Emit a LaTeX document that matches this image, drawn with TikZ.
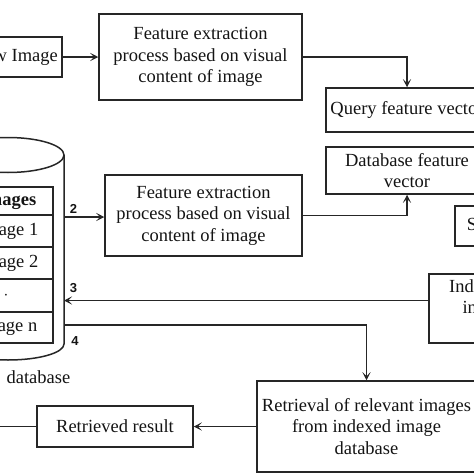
\documentclass[tikz,border=0pt]{standalone}
\usepackage{fontspec}
\setmainfont{Liberation Serif}
\newfontfamily\numfont{Liberation Sans}
\usetikzlibrary{arrows.meta}
\definecolor{linec}{HTML}{262626}
\definecolor{textc}{HTML}{141414}
\begin{document}
\begin{tikzpicture}[x=1pt,y=-1pt,
  every node/.style={text=textc},
  box/.style={draw=linec, line width=1.5pt, inner sep=0pt, align=center, font=\fontsize{18.5}{21.5}\selectfont},
  conn/.style={draw=linec, line width=1.3pt},
  arr/.style={conn, -{Stealth[length=8pt,width=8pt,inset=4pt]}},
  num/.style={font=\numfont\bfseries\fontsize{13}{15}\selectfont, inner sep=0pt},
  cell/.style={anchor=west, inner sep=0pt},
  txt/.style={font=\fontsize{18.5}{21.5}\selectfont, inner sep=0pt, align=center}
]
\useasboundingbox (0,0) rectangle (474,474);
\clip (0,0) rectangle (474,474);

% boxes
\node[box, minimum width=94pt, minimum height=40pt] (newimg) at (15,57) {New Image};
\node[box, minimum width=203pt, minimum height=86pt] (fe1) at (200.5,57) {Feature extraction\\process based on visual\\content of image};
\node[box, minimum width=162pt, minimum height=44pt] (qfv) at (407,110) {Query feature vector};
\node[box, minimum width=162pt, minimum height=47pt] (dfv) at (407,170.5) {Database feature\\vector};
\node[box, minimum width=197pt, minimum height=81pt] (fe2) at (203.5,215.5) {Feature extraction\\process based on visual\\content of image};
\node[box, anchor=west, minimum height=40pt, inner xsep=12pt] (sim) at (454,226) {Similarity};
\node[box, anchor=west, minimum width=110pt, minimum height=69pt] (idx) at (428,308.5) {};
\node[txt, anchor=north west] (idxt) at (449,279) {Indexed image\\in database};
\node[box, minimum width=219pt, minimum height=91pt] (retr) at (366.5,426.5) {Retrieval of relevant images\\from indexed image\\database};
\node[box, minimum width=156pt, minimum height=41pt] (res) at (115,426.5) {Retrieved result};

% cylinder (image database)
\draw[linec, line width=1.5pt] (8,155) ellipse [x radius=56, y radius=17.5];
\draw[linec, line width=1.5pt] (64,155) -- (64,344) arc[start angle=0, end angle=180, x radius=56, y radius=16] -- (-48,155);
\draw[linec, line width=1.4pt] (-40,187) rectangle (53,343);
\foreach \yy in {215,247,279,312} \draw[linec, line width=1.4pt] (-40,\yy) -- (53,\yy);
\node[cell, font=\bfseries\fontsize{18.5}{21.5}\selectfont] (h0) at (-20.5,201) {Images};
\node[cell, font=\fontsize{18.5}{21.5}\selectfont] (h1) at (-22,231) {Image 1};
\node[cell, font=\fontsize{18.5}{21.5}\selectfont] (h2) at (-22,263) {Image 2};
\node[cell, font=\fontsize{18.5}{21.5}\selectfont] (h3) at (-35,295.5) {$\cdots\cdots$};
\node[cell, font=\fontsize{18.5}{21.5}\selectfont] (h4) at (-23,327.5) {Image n};
\node[font=\fontsize{18.5}{21.5}\selectfont, inner sep=0pt, anchor=base east] (dblabel) at (70.5,383) {database};

% connector ends
\coordinate (c2) at (64,217);
\coordinate (c3) at (64,300.5);
\coordinate (c4) at (64,325);
\coordinate (resl) at (-10,426.5);

% connectors
\draw[arr] (newimg.east) -- (fe1.west);
\draw[arr] (fe1.east) -| (qfv.north);
\draw[arr] (fe2.east) -| (dfv.south);
\draw[arr] (c2) -- (c2 -| fe2.west);
\draw[arr] (c3 -| idx.west) -- (c3);
\draw[arr] (c4) -| (retr.north);
\draw[arr] (retr.west) -- (res.east);
\draw[conn] (res.west) -- (resl);

% step numbers
\node[num] (n2) at (73.5,208.5) {2};
\node[num] (n3) at (73.5,288) {3};
\node[num] (n4) at (75,341) {4};
\end{tikzpicture}
\end{document}
